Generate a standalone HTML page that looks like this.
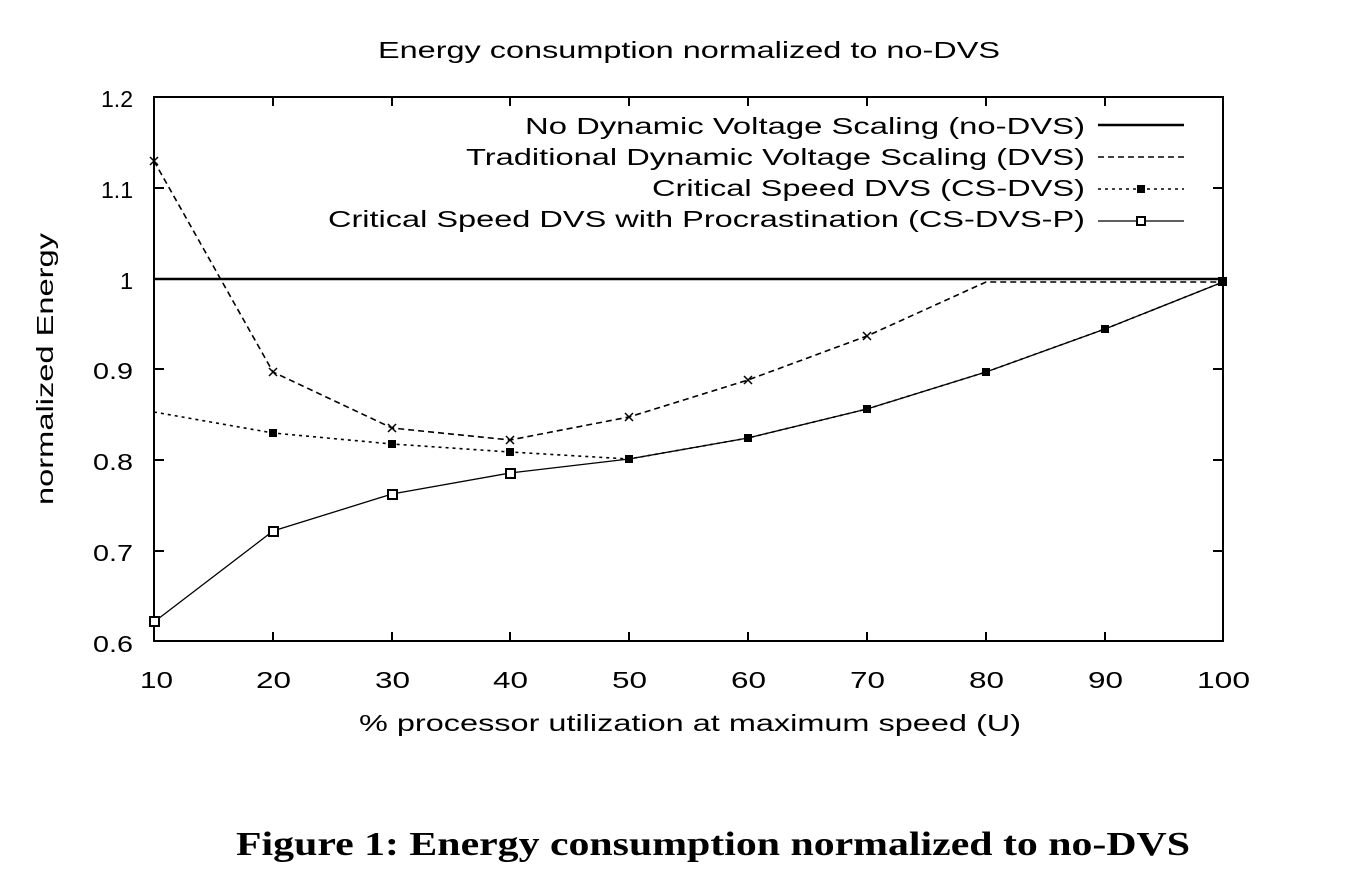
<!DOCTYPE html>
<html><head><meta charset="utf-8"><style>
body{margin:0;background:#fff;}
svg{display:block;}
text{font-family:"Liberation Sans",sans-serif;fill:#000;}
text.cap{font-family:"Liberation Serif",serif;font-weight:bold;}
</style></head><body>
<svg width="1371" height="887" viewBox="0 0 1371 887" xmlns="http://www.w3.org/2000/svg">
<rect width="1371" height="887" fill="#fff"/>
<text x="378" y="58" font-size="23" textLength="622" lengthAdjust="spacingAndGlyphs">Energy consumption normalized to no-DVS</text>
<rect x="154" y="97" width="1069" height="544" fill="none" stroke="#000" stroke-width="2"/>
<g stroke="#000" stroke-width="2">
<path d="M154 188h10M154 369h10M154 460h10M154 551h10M1223 188h-10M1223 369h-10M1223 460h-10M1223 551h-10"/>
<path d="M273 641v-9M392 641v-9M510 641v-9M629 641v-9M748 641v-9M867 641v-9M986 641v-9M1105 641v-9M273 97v9M392 97v9M510 97v9M629 97v9M748 97v9M867 97v9M986 97v9M1105 97v9"/>
</g>
<g font-size="23">
<text x="101" y="107" textLength="32" lengthAdjust="spacingAndGlyphs">1.2</text>
<text x="101" y="198" textLength="32" lengthAdjust="spacingAndGlyphs">1.1</text>
<text x="120" y="289" textLength="13" lengthAdjust="spacingAndGlyphs">1</text>
<text x="93" y="379" textLength="40" lengthAdjust="spacingAndGlyphs">0.9</text>
<text x="93" y="470" textLength="40" lengthAdjust="spacingAndGlyphs">0.8</text>
<text x="93" y="561" textLength="40" lengthAdjust="spacingAndGlyphs">0.7</text>
<text x="93" y="652" textLength="40" lengthAdjust="spacingAndGlyphs">0.6</text>
</g>
<g font-size="23">
<text x="140" y="688" textLength="33" lengthAdjust="spacingAndGlyphs">10</text>
<text x="256" y="688" textLength="35" lengthAdjust="spacingAndGlyphs">20</text>
<text x="375" y="688" textLength="35" lengthAdjust="spacingAndGlyphs">30</text>
<text x="493" y="688" textLength="35" lengthAdjust="spacingAndGlyphs">40</text>
<text x="612" y="688" textLength="35" lengthAdjust="spacingAndGlyphs">50</text>
<text x="731" y="688" textLength="35" lengthAdjust="spacingAndGlyphs">60</text>
<text x="850" y="688" textLength="35" lengthAdjust="spacingAndGlyphs">70</text>
<text x="969" y="688" textLength="35" lengthAdjust="spacingAndGlyphs">80</text>
<text x="1088" y="688" textLength="35" lengthAdjust="spacingAndGlyphs">90</text>
<text x="1197" y="688" textLength="53" lengthAdjust="spacingAndGlyphs">100</text>
<text x="359" y="731" textLength="662" lengthAdjust="spacingAndGlyphs">% processor utilization at maximum speed (U)</text>
</g>
<text transform="translate(53,505) rotate(-90)" font-size="23" textLength="272" lengthAdjust="spacingAndGlyphs">normalized Energy</text>
<!-- no-DVS -->
<path d="M154 279H1223" stroke="#000" stroke-width="2.5" fill="none"/>
<!-- DVS -->
<path d="M154 161L273 372L392 428L510 440L629 417L748 380L867 336L986 282L1105 282L1223 282" stroke="#000" stroke-width="1.6" stroke-dasharray="6,4" fill="none"/>
<!-- CS-DVS -->
<path d="M154 412L273 433L392 444L510 452L629 459L748 438L867 409L986 372L1105 329L1223 282" stroke="#000" stroke-width="1.6" stroke-dasharray="3,4" fill="none"/>
<!-- CS-DVS-P -->
<path d="M154 622L273 531L392 494L510 473L629 459L748 438L867 409L986 372L1105 329L1223 282" stroke="#000" stroke-width="1.3" fill="none"/>
<g fill="#000">
<rect x="269" y="429" width="8" height="8"/><rect x="388" y="440" width="8" height="8"/><rect x="506" y="448" width="8" height="8"/><rect x="625" y="455" width="8" height="8"/>
<rect x="744" y="434" width="8" height="8"/><rect x="863" y="405" width="8" height="8"/><rect x="982" y="368" width="8" height="8"/><rect x="1101" y="325" width="8" height="8"/><rect x="1218" y="277" width="9" height="9"/>
</g>
<g fill="#fff" stroke="#000" stroke-width="2">
<rect x="150" y="617" width="9" height="9"/><rect x="269" y="527" width="9" height="9"/><rect x="388" y="490" width="9" height="9"/><rect x="506" y="469" width="9" height="9"/>
</g>
<g stroke="#000" stroke-width="1.5">
<path d="M150 157l8 8M158 157l-8 8M269 368l8 8M277 368l-8 8M388 424l8 8M396 424l-8 8M506 436l8 8M514 436l-8 8M625 413l8 8M633 413l-8 8M744 376l8 8M752 376l-8 8M863 332l8 8M871 332l-8 8"/>
</g>
<g font-size="23">
<text x="525" y="134" textLength="560" lengthAdjust="spacingAndGlyphs">No Dynamic Voltage Scaling (no-DVS)</text>
<text x="466" y="165" textLength="619" lengthAdjust="spacingAndGlyphs">Traditional Dynamic Voltage Scaling (DVS)</text>
<text x="652" y="196" textLength="433" lengthAdjust="spacingAndGlyphs">Critical Speed DVS (CS-DVS)</text>
<text x="328" y="227" textLength="757" lengthAdjust="spacingAndGlyphs">Critical Speed DVS with Procrastination (CS-DVS-P)</text>
</g>
<path d="M1098 125h86" stroke="#000" stroke-width="2.5"/>
<path d="M1098 157h86" stroke="#000" stroke-width="1.6" stroke-dasharray="6,4"/>
<path d="M1098 189h86" stroke="#000" stroke-width="1.6" stroke-dasharray="3,4"/>
<path d="M1098 221h86" stroke="#000" stroke-width="1.3"/>
<rect x="1137" y="185" width="8" height="8" fill="#000"/>
<rect x="1137" y="217" width="8" height="8" fill="#fff" stroke="#000" stroke-width="2"/>
<text class="cap" x="236" y="855" font-size="34" textLength="954" lengthAdjust="spacingAndGlyphs">Figure 1: Energy consumption normalized to no-DVS</text>
</svg>
</body></html>
